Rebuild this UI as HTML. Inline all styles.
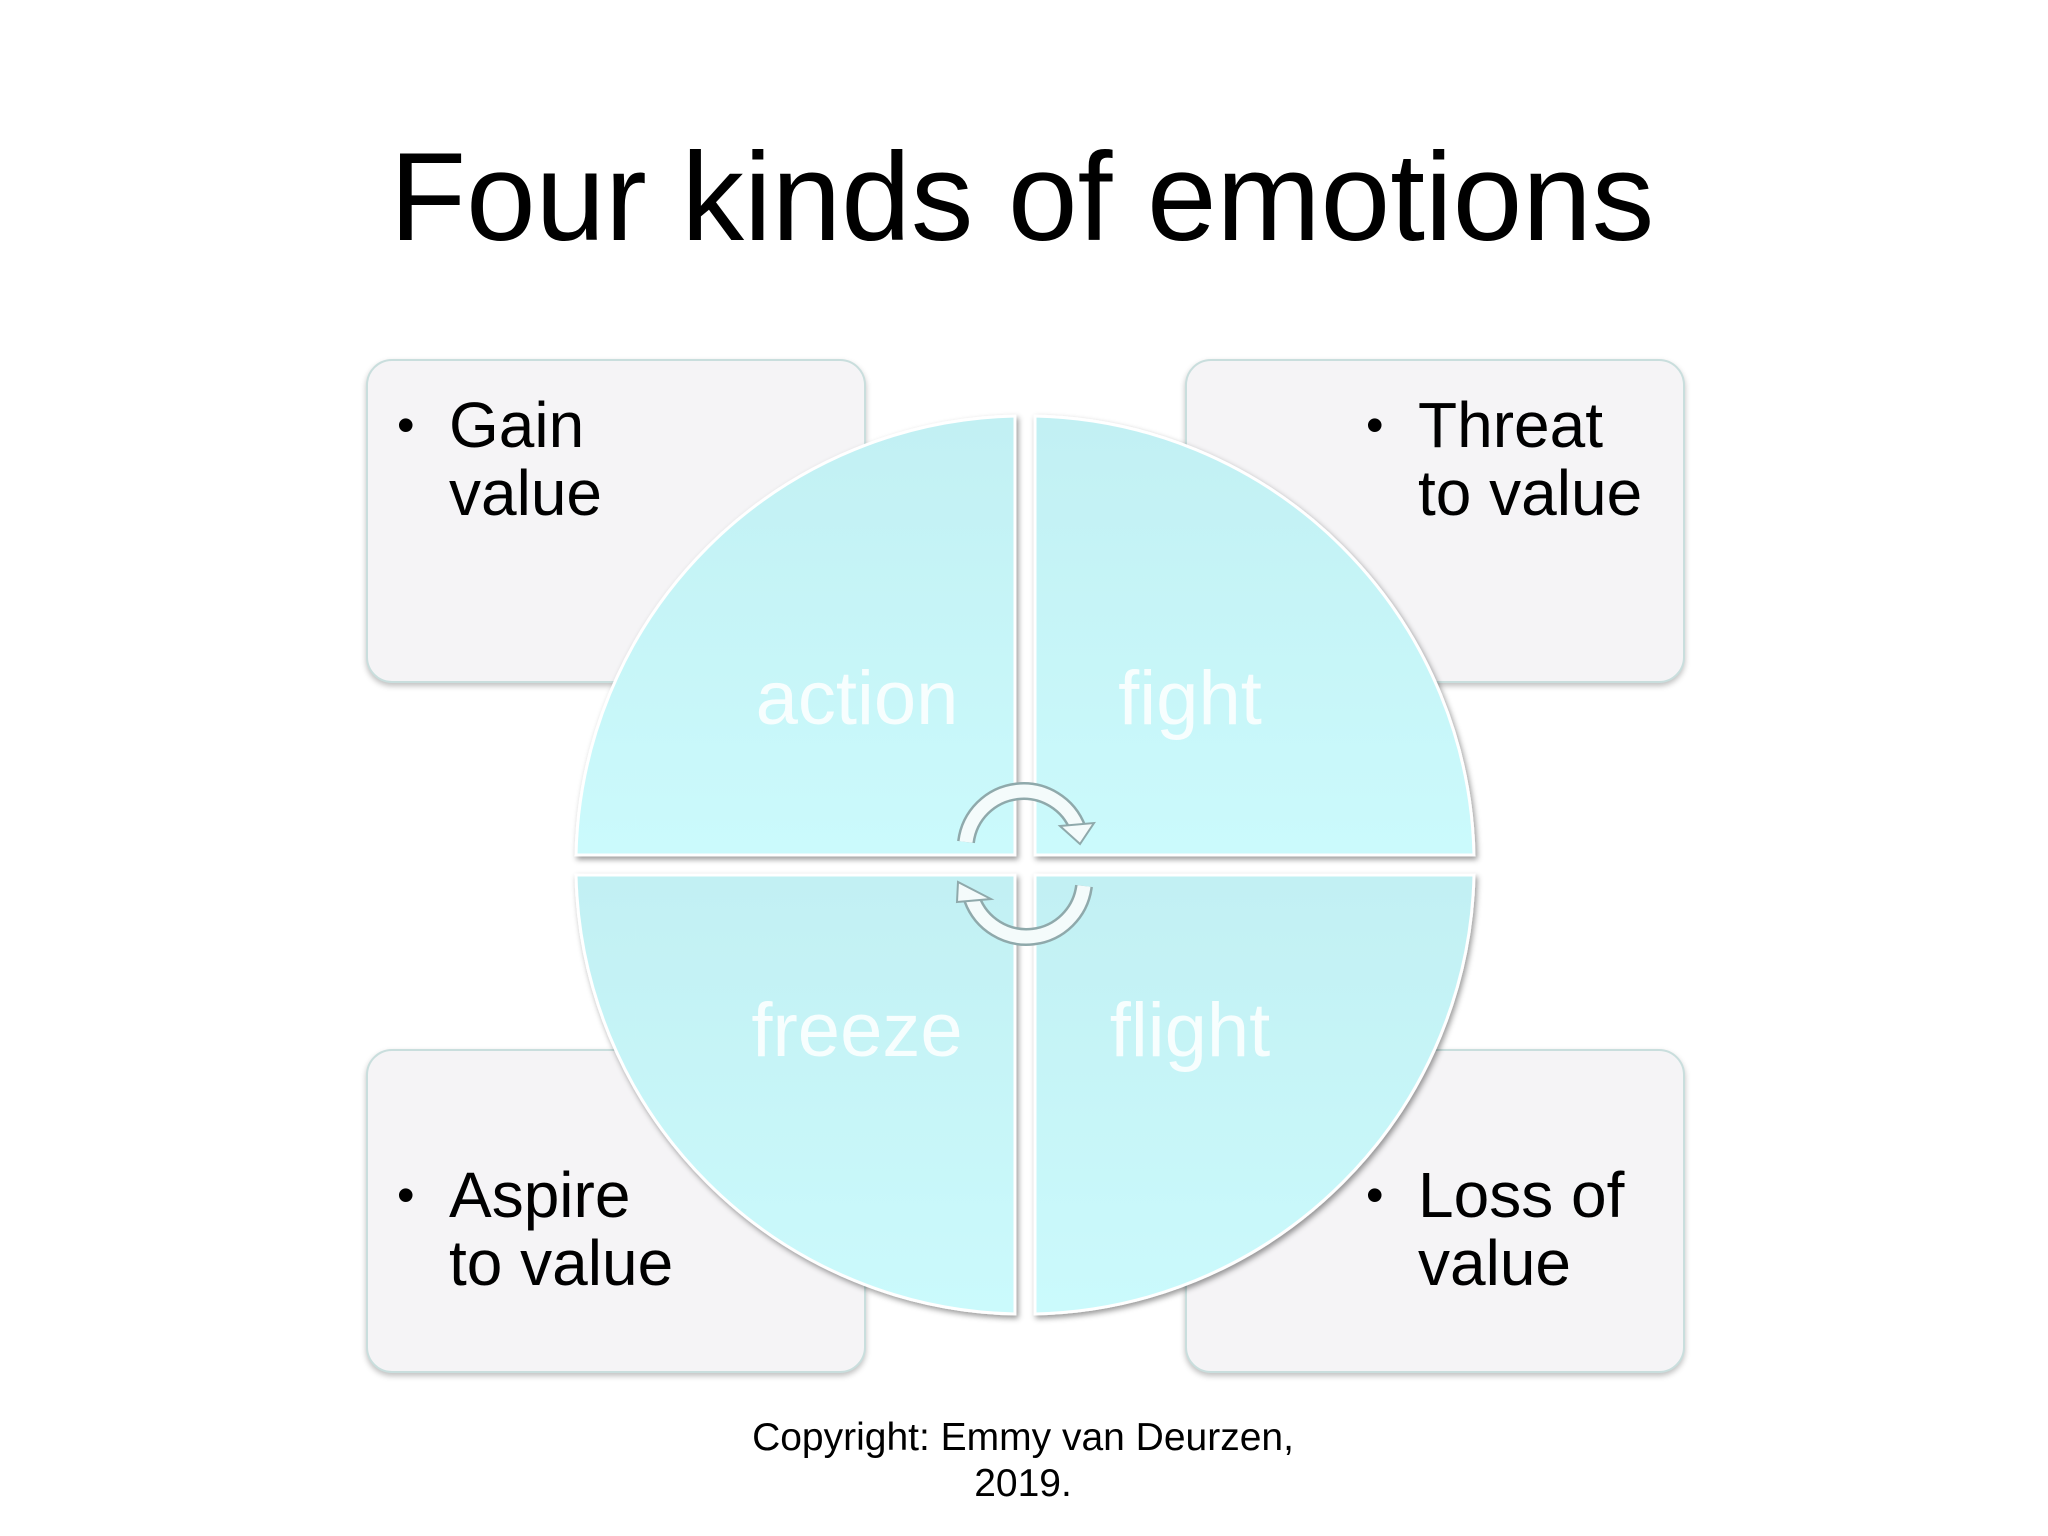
<!DOCTYPE html>
<html><head><meta charset="utf-8"><style>
html,body{margin:0;padding:0;background:#fff;}
body{width:2048px;height:1536px;position:relative;overflow:hidden;font-family:"Liberation Sans",sans-serif;}
.title{position:absolute;left:0;width:2044px;top:128px;text-align:center;font-size:125px;line-height:140px;color:#000;}
.box{position:absolute;width:500px;height:324px;background:#f5f4f6;border:2px solid #c9dedd;border-radius:26px;box-shadow:0 3px 6px rgba(0,0,0,0.25);box-sizing:border-box;}
.t{position:absolute;font-size:64px;line-height:68px;color:#000;}
.t .b{position:absolute;left:-52px;top:0;font-size:50px;}
.copy{position:absolute;left:0;width:2046px;top:1415px;text-align:center;font-size:39px;line-height:46px;color:#000;}
</style></head><body>
<div class="title">Four kinds of emotions</div>
<div class="box" style="left:366px;top:359px"></div>
<div class="box" style="left:1185px;top:359px"></div>
<div class="box" style="left:366px;top:1049px"></div>
<div class="box" style="left:1185px;top:1049px"></div>
<div class="t" style="left:449px;top:391px"><span class="b">•</span>Gain<br>value</div>
<div class="t" style="left:1418px;top:391px"><span class="b">•</span>Threat<br>to value</div>
<div class="t" style="left:449px;top:1161px"><span class="b">•</span>Aspire<br>to value</div>
<div class="t" style="left:1418px;top:1161px"><span class="b">•</span>Loss of<br>value</div>
<svg width="2048" height="1536" style="position:absolute;left:0;top:0">
<defs>
<linearGradient id="g" x1="0" y1="0" x2="0" y2="1">
<stop offset="0" stop-color="#c2f0f3"/><stop offset="1" stop-color="#cbfafc"/>
</linearGradient>
<filter id="sh" x="-10%" y="-10%" width="120%" height="120%"><feDropShadow dx="2" dy="3" stdDeviation="3" flood-color="#000" flood-opacity="0.4"/></filter>
</defs>
<g fill="url(#g)" stroke="#ffffff" stroke-width="3" filter="url(#sh)">
<path d="M1015 855 V416 A449 449 0 0 0 576 855 Z"/>
<path d="M1035 855 V416 A449 449 0 0 1 1474 855 Z"/>
<path d="M1015 875 V1314 A449 449 0 0 1 576 875 Z"/>
<path d="M1035 875 V1314 A449 449 0 0 0 1474 875 Z"/>
</g>
<g font-family="Liberation Sans, sans-serif" font-size="76" fill="#ffffff" fill-opacity="0.85" text-anchor="middle">
<text x="857" y="724">action</text>
<text x="1190" y="724">fight</text>
<text x="857" y="1056">freeze</text>
<text x="1190" y="1056">flight</text>
</g>
<g transform="translate(-4,4)" fill="none">
<path d="M970 838 A58 58 0 0 1 1082 825" stroke="#8fa9ab" stroke-width="18"/>
<path d="M970 838 A58 58 0 0 1 1082 825" stroke="#f4fbfb" stroke-width="13"/>
<polygon points="1064,822 1098,819 1084,840" fill="#f4fbfb" stroke="#8fa9ab" stroke-width="2"/>
</g>
<g transform="translate(-6,-9)" fill="none">
<path d="M1090 895 A58 58 0 0 1 978 908" stroke="#8fa9ab" stroke-width="18"/>
<path d="M1090 895 A58 58 0 0 1 978 908" stroke="#f4fbfb" stroke-width="13"/>
<polygon points="963,911 997,908 964,891" fill="#f4fbfb" stroke="#8fa9ab" stroke-width="2"/>
</g>
</svg>
<div class="copy">Copyright: Emmy van Deurzen,<br>2019.</div>
</body></html>
